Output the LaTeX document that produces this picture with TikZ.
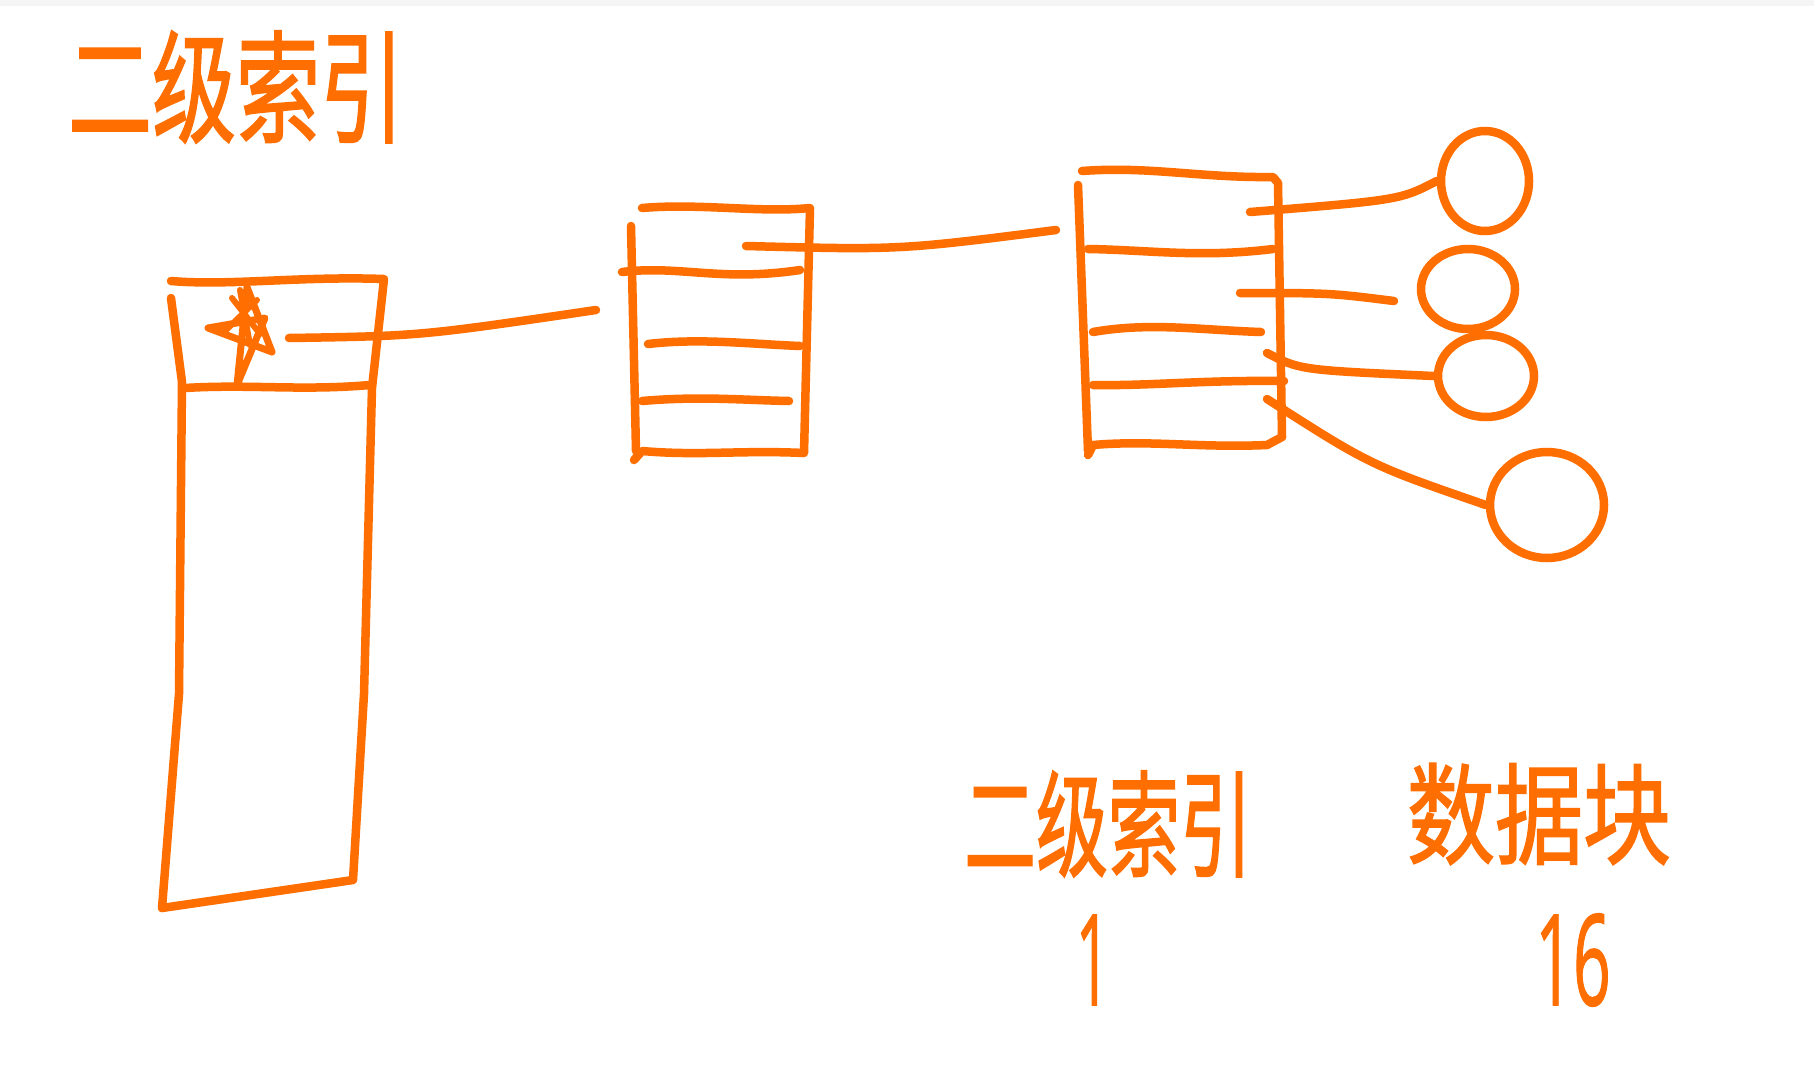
\documentclass[tikz,border=0pt]{standalone}
\usepackage{fontspec}
\usepackage{graphicx}
\newfontfamily\cjk[FakeBold=1.6]{Noto Sans CJK SC}
\newfontfamily\lat[FakeBold=1.2]{Open Sans}
\usetikzlibrary{shapes.geometric}
\definecolor{pen}{RGB}{255,110,0}
\tikzset{
  ink/.style={draw=pen, line width=8.5pt, line cap=round, line join=round},
  lbl/.style={text=pen, inner sep=0pt},
  blob/.style={ink, ellipse, inner sep=0pt}
}
\begin{document}
\begin{tikzpicture}[x=1pt,y=-1pt]
\useasboundingbox (0,0) rectangle (1814,1071);
\fill[white] (0,0) rectangle (1814,1071);
\fill[black!4] (0,0) rectangle (1814,6);

% labels
\node[lbl, font=\cjk\fontsize{84}{90}\selectfont] (title) at (236,87) {\scalebox{1}[1.45]{二级索引}};
\node[lbl, font=\cjk\fontsize{72}{80}\selectfont] (lvl2) at (1108,824) {\scalebox{1}[1.6]{二级索引}};
\node[lbl, font=\cjk\fontsize{88}{96}\selectfont] (data) at (1539,814) {\scalebox{1}[1.25]{数据块}};
\node[lbl, font=\lat\fontsize{110}{120}\selectfont] (one) at (1093,960) {\scalebox{0.55}[1.15]{1}};
\node[lbl, font=\lat\fontsize{110}{120}\selectfont] (sixteen) at (1573,960) {\scalebox{0.6}[1.15]{16}};

% left tall block
\draw[ink] (171,281) .. controls (230,286) and (300,276) .. (384,279) -- (372,388) -- (364,694) -- (353,880) -- (162,908);
\draw[ink] (171,298) -- (182,382) -- (179,694) -- (162,908);
\draw[ink] (185,388) .. controls (250,384) and (300,391) .. (370,385);
% star
\draw[ink, line width=7pt] (247,287) -- (237,385) -- (265,318) -- (208,328) -- (272,352) -- (247,287);
\draw[ink, line width=6pt] (232,298) -- (260,334) (224,332) -- (257,300) (240,290) -- (250,345);

% first-level block
\draw[ink] (642,208) .. controls (700,203) and (760,213) .. (810,208) -- (804,453) .. controls (740,450) and (700,456) .. (642,451) -- (634,460);
\draw[ink] (631,226) -- (636,451);
\draw[ink] (622,272) .. controls (680,265) and (720,282) .. (800,270);
\draw[ink] (648,344) .. controls (700,338) and (750,344) .. (800,346);
\draw[ink] (642,401) .. controls (700,396) and (740,400) .. (789,401);

% second-level block
\draw[ink] (1082,171) .. controls (1150,166) and (1200,178) .. (1273,177) -- (1278,183) -- (1282,437) -- (1267,445) .. controls (1200,448) and (1150,440) .. (1093,445) -- (1088,455);
\draw[ink] (1078,185) -- (1088,451);
\draw[ink] (1088,249) .. controls (1150,250) and (1200,258) .. (1273,249);
\draw[ink] (1093,332) .. controls (1150,322) and (1200,330) .. (1261,332);
\draw[ink] (1093,385) .. controls (1150,386) and (1200,380) .. (1284,381);

% data blocks
\node[blob, minimum width=88pt, minimum height=100pt] (c1) at (1485,181) {};
\node[blob, minimum width=94pt, minimum height=80pt] (c2) at (1468,289) {};
\node[blob, minimum width=96pt, minimum height=82pt] (c3) at (1486,376) {};
\node[blob, minimum width=114pt, minimum height=106pt] (c4) at (1547,505) {};

% connector end points
\coordinate (s0) at (289,338);
\coordinate (e0) at (596,310);
\coordinate (s1) at (746,246);
\coordinate (e1) at (1056,230);
\coordinate (a1) at (1250,212);
\coordinate (a2) at (1240,293);
\coordinate (b2) at (1394,301);
\coordinate (a3) at (1267,353);
\coordinate (a4) at (1267,399);

\draw[ink] (s0) .. controls (420,336) .. (e0);
\draw[ink] (s1) .. controls (900,250) .. (e1);
\draw[ink] (a1) .. controls (1400,200) .. (c1.west);
\draw[ink] (a2) .. controls (1330,293) .. (b2);
\draw[ink] (a3) .. controls (1300,370) .. (c3.west);
\draw[ink] (a4) .. controls (1370,465) .. (c4.west);
\end{tikzpicture}
\end{document}
